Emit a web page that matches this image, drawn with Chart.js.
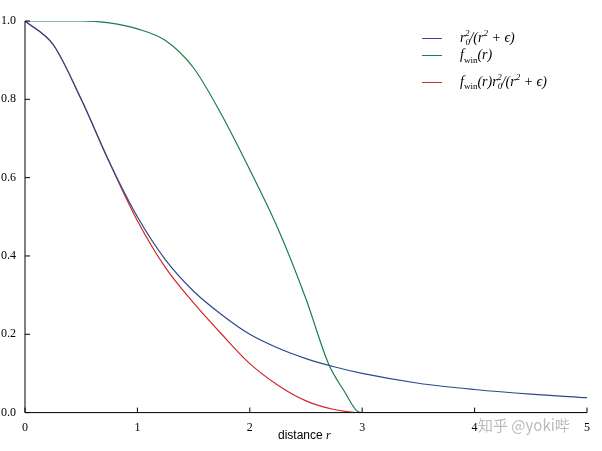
<!DOCTYPE html>
<html><head><meta charset="utf-8">
<script src="https://cdn.jsdelivr.net/npm/chart.js@4"></script>
<style>
body{margin:0;background:#fff;width:602px;height:451px;overflow:hidden;position:relative}
#wrap{position:absolute;left:0;top:0;width:602px;height:451px}
#leg{position:absolute;left:422px;top:22px;font-family:"Liberation Serif",serif;font-size:14px;font-style:italic}
#leg div{height:22px;line-height:22px;white-space:nowrap}
#leg span.l{display:inline-block;width:20px;height:1.3px;margin-right:18px;vertical-align:middle}
#leg sub,#leg sup{font-size:9px}
#wm{position:absolute;left:478px;top:414px;font-family:"Noto Sans CJK SC";font-size:15px;color:#bbb}
#xt{position:absolute;left:278px;top:428px;font-family:"Liberation Sans",sans-serif;font-size:12px}
</style></head><body>
<div id="wrap"><canvas id="c" width="602" height="451"></canvas></div>
<div id="leg">
<div><span class="l" style="background:#2a4b8d"></span>r<sub>0</sub><sup style="margin-left:-5px">2</sup>/(r<sup>2</sup> + ϵ)</div>
<div><span class="l" style="background:#1a7f4b"></span>f<sub style="font-style:normal">win</sub>(r)</div>
<div><span class="l" style="background:#d62728"></span>f<sub style="font-style:normal">win</sub>(r)r<sub>0</sub><sup style="margin-left:-5px">2</sup>/(r<sup>2</sup> + ϵ)</div>
</div>
<div id="xt">distance <i style="font-family:'Liberation Serif'">r</i></div>
<div id="wm">知乎 @yoki哔</div>
<script>
const rBlue=[0,0.25,0.5,0.75,1,1.25,1.5,1.75,2,2.25,2.5,2.75,3,3.5,4,4.5,5];
const blue=[1,0.94,0.8,0.64,0.5,0.39,0.31,0.25,0.2,0.165,0.138,0.117,0.1,0.075,0.059,0.047,0.038];
const rGreen=[0,0.25,0.5,0.75,1,1.25,1.5,1.75,2,2.25,2.5,2.7,2.85,2.95,3,4,5];
const green=[1,1,1,0.995,0.98,0.95,0.88,0.76,0.62,0.47,0.29,0.125,0.05,0.005,0,0,0];
const rRed=[0,0.25,0.5,0.75,1,1.25,1.5,1.75,2,2.25,2.5,2.75,3,4,5];
const red=[1,0.94,0.8,0.64,0.49,0.37,0.28,0.2,0.125,0.07,0.03,0.008,0,0,0];
const xTicks=[0,1,2,3,4,5];
const yTicks=[0,0.2,0.4,0.6,0.8,1.0];
const pts=(xs,ys)=>xs.map((x,i)=>({x,y:ys[i]}));
const ds=(d,c)=>({data:d,borderColor:c,borderWidth:1.2,pointRadius:0,cubicInterpolationMode:'monotone',fill:false});
const inTicks={id:'in',afterDraw(ch){const c=ch.ctx,x=ch.scales.x,y=ch.scales.y,a=ch.chartArea;c.save();c.strokeStyle='#000';c.lineWidth=1;c.beginPath();
c.moveTo(a.left,a.top);c.lineTo(a.left,a.bottom);c.lineTo(a.right,a.bottom);
xTicks.forEach(t=>{const p=x.getPixelForValue(t);c.moveTo(p,a.bottom);c.lineTo(p,a.bottom-5);});
yTicks.forEach(t=>{const p=y.getPixelForValue(t);c.moveTo(a.left,p);c.lineTo(a.left+5,p);});
c.stroke();c.restore();}};
new Chart(document.getElementById('c'),{type:'line',data:{datasets:[ds(pts(rBlue,blue),'#2a4b8d'),ds(pts(rGreen,green),'#1a7f4b'),ds(pts(rRed,red),'#d62728')]},
options:{responsive:false,animation:false,layout:{padding:{left:0,right:15,top:21,bottom:16}},
plugins:{legend:{display:false},tooltip:{enabled:false}},
scales:{x:{type:'linear',min:0,max:5,afterBuildTicks:s=>{s.ticks=xTicks.map(v=>({value:v}))},grid:{display:false},border:{display:false},ticks:{padding:0,color:'#000',font:{family:'Liberation Serif',size:12},callback:v=>String(v)}},
y:{min:0,max:1,afterBuildTicks:s=>{s.ticks=yTicks.map(v=>({value:v}))},grid:{display:false},border:{display:false},ticks:{padding:1,color:'#000',font:{family:'Liberation Serif',size:12},callback:v=>v.toFixed(1)}}}},
plugins:[inTicks]});
</script></body></html>
